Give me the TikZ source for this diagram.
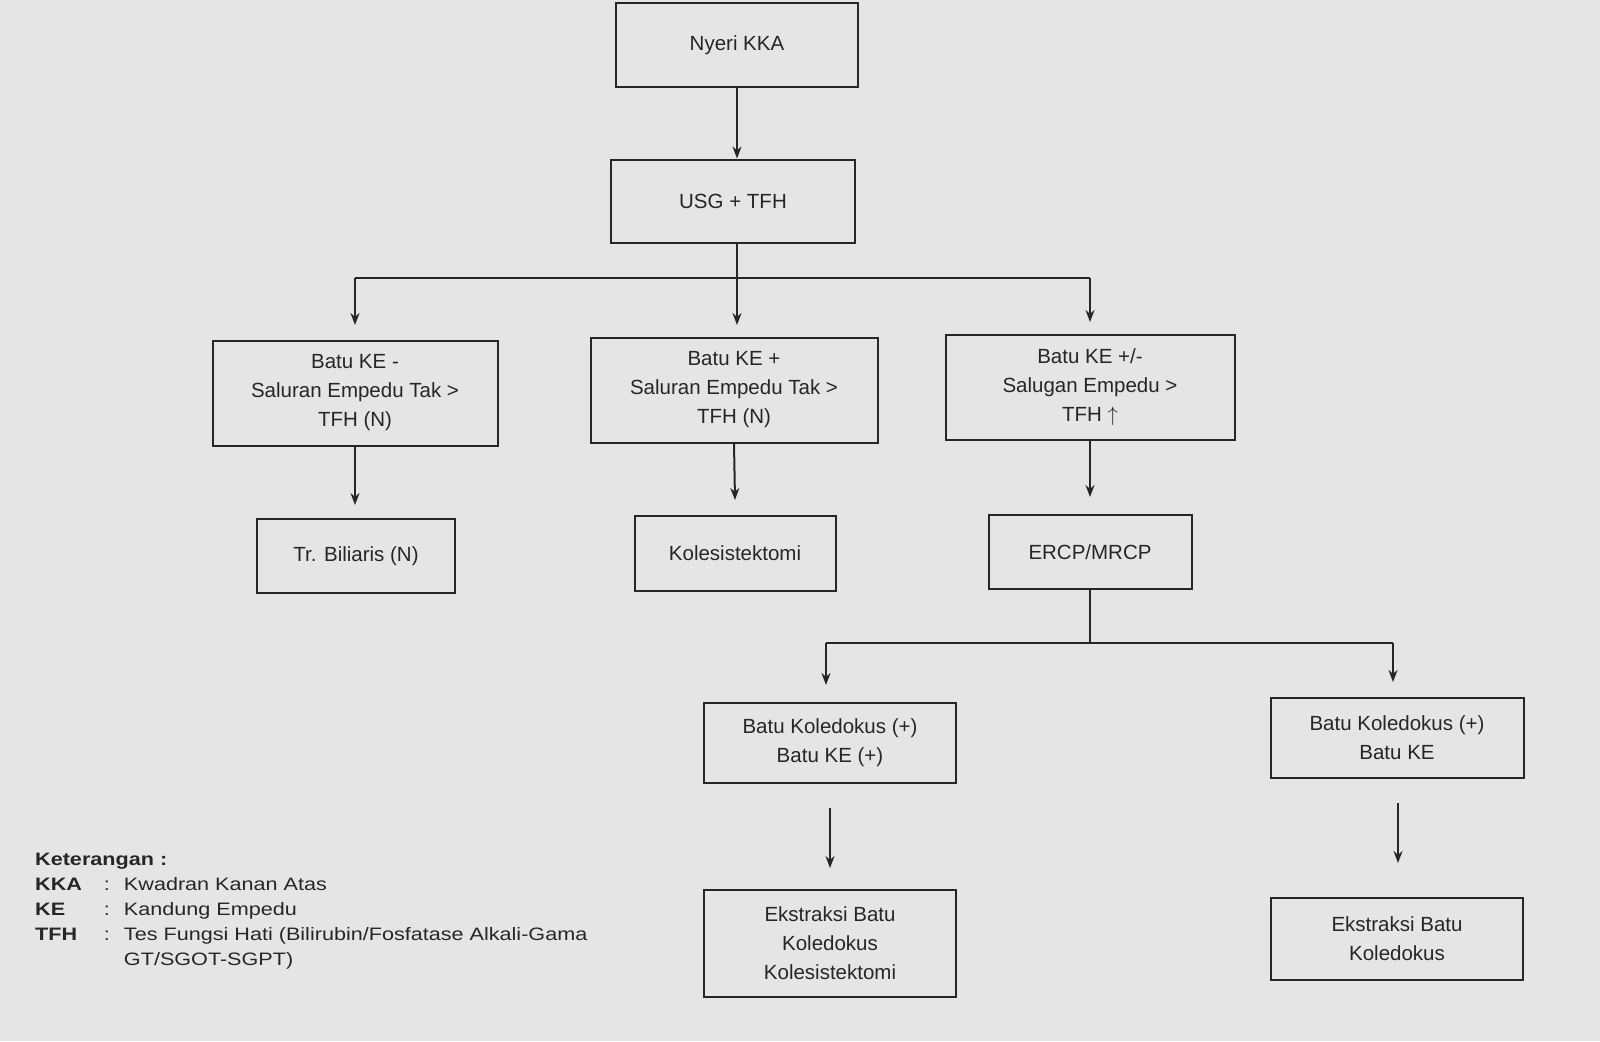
\documentclass[tikz,border=0pt]{standalone}
\usepackage{fontspec}
\setmainfont{Liberation Sans}
\newfontfamily\legfont{Liberation Sans}[FakeStretch=1.2]
\usetikzlibrary{arrows.meta}
\begin{document}
\begin{tikzpicture}[x=1pt,y=-1pt,
  box/.style={draw=black!85,line width=2pt,align=center,font=\fontsize{20.5}{29}\selectfont,text=black!85,inner sep=0pt},
  arr/.style={-{Stealth[length=12pt,width=9pt]},line width=2pt,draw=black!85},
  ln/.style={line width=2pt,draw=black!85}]
\fill[black!10] (0,0) rectangle (1600,1041);
\useasboundingbox (0,0) rectangle (1600,1041);
\node[box,minimum width=242pt,minimum height=84pt] (n1) at (737,45) {Nyeri KKA};
\node[box,minimum width=244pt,minimum height=83pt] (n2) at (733,201) {USG + TFH};
\node[box,minimum width=285pt,minimum height=105pt] (b1) at (355,393) {Batu KE -\\Saluran Empedu Tak >\\TFH (N)};
\node[box,minimum width=287pt,minimum height=105pt] (b2) at (734,390) {Batu KE +\\Saluran Empedu Tak >\\TFH (N)};
\node[box,minimum width=289pt,minimum height=105pt] (b3) at (1090,387) {Batu KE +/-\\Salugan Empedu >\\TFH $\uparrow$};
\node[box,minimum width=198pt,minimum height=74pt] (c1) at (356,556) {Tr. Biliaris (N)};
\node[box,minimum width=201pt,minimum height=75pt] (c2) at (735,553) {Kolesistektomi};
\node[box,minimum width=203pt,minimum height=74pt] (c3) at (1090,552) {ERCP/MRCP};
\node[box,minimum width=252pt,minimum height=80pt] (d1) at (830,743) {Batu Koledokus (+)\\Batu KE (+)};
\node[box,minimum width=253pt,minimum height=80pt] (d2) at (1397,738) {Batu Koledokus (+)\\Batu KE};
\node[box,minimum width=252pt,minimum height=107pt] (e1) at (830,943) {Ekstraksi Batu\\Koledokus\\Kolesistektomi};
\node[box,minimum width=252pt,minimum height=82pt] (e2) at (1397,939) {Ekstraksi Batu\\Koledokus};
\draw[arr] (n1) -- (n1|-n2.north);
\coordinate (j1) at (737,278);
\draw[ln] (737,243) -- (j1);
\draw[ln] (355,278) -- (1090,278);
\draw[arr] (355,278) -- (355,325);
\draw[arr] (737,278) -- (737,325);
\draw[arr] (1090,278) -- (1090,322);
\draw[arr] (b1.south) -- (355,505);
\draw[arr] (b2.south) -- (735,500);
\draw[arr] (b3.south) -- (1090,497);
\draw[ln] (c3.south) -- (1090,643);
\draw[ln] (826,643) -- (1393,643);
\draw[arr] (826,643) -- (826,685);
\draw[arr] (1393,643) -- (1393,682);
\coordinate (s1) at (830,808); \coordinate (t1) at (830,868);
\coordinate (s2) at (1398,803); \coordinate (t2) at (1398,863);
\draw[arr] (s1) -- (t1);
\draw[arr] (s2) -- (t2);
\node[anchor=north west,align=left,font=\legfont\fontsize{18}{25}\selectfont,text=black!85,inner sep=0pt] (leg) at (35,848) {%
\begin{tabular}{@{}l@{\hspace{22pt}}l@{\hspace{14pt}}l@{}}
\multicolumn{3}{@{}l}{\textbf{Keterangan :}}\\
\textbf{KKA} & : & Kwadran Kanan Atas\\
\textbf{KE} & : & Kandung Empedu\\
\textbf{TFH} & : & Tes Fungsi Hati (Bilirubin/Fosfatase Alkali-Gama\\
 & & GT/SGOT-SGPT)
\end{tabular}};
\end{tikzpicture}
\end{document}
